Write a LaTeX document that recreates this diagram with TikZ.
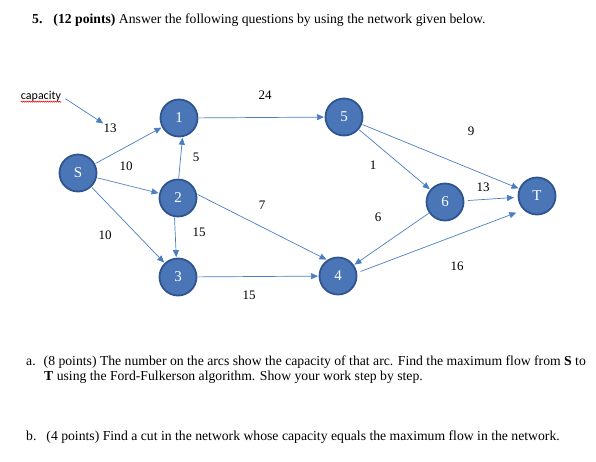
\documentclass[tikz,border=0pt]{standalone}
\usepackage{fontspec}
\setmainfont{Liberation Serif}
\newfontfamily\capfont{Carlito}
\usepackage{xcolor}
\usetikzlibrary{arrows.meta}
\usetikzlibrary{decorations.pathmorphing}

\definecolor{nodeblue}{HTML}{4A76B8}
\definecolor{rimblue}{HTML}{2F5591}
\definecolor{arcblue}{HTML}{4A7EC2}

\tikzset{
    vertex/.style={circle,draw=rimblue,line width=1.8pt,fill=nodeblue,text=white,
        minimum size=37pt,inner sep=0pt,outer sep=1.5pt,font=\fontsize{15}{17}\selectfont},
    arclabel/.style={inner sep=0pt,font=\fontsize{13}{15}\selectfont},
    arc/.style={draw=arcblue,line width=0.7pt,-{Triangle[length=7pt,width=6pt]}},
    question/.style={anchor=base west,inner sep=0pt,font=\fontsize{13.7}{15}\selectfont},
}

\begin{document}
\begin{tikzpicture}[x=1pt,y=-1pt]
    \useasboundingbox (0,0) rectangle (596,461);

    % question text
    \node [question] (title) at (32,23) {\textbf{5.}\hspace{11pt}\textbf{(12 points)} Answer the following questions by using the network given below.};
    \node [question] (parta) at (26,365) {a.\hspace{8pt}(8 points) The number on the arcs show the capacity of that arc. Find the maximum flow from \textbf{S} to};
    \node [question] (partacont) at (44,380) {\textbf{T} using the Ford-Fulkerson algorithm. Show your work step by step.};
    \node [question] (partb) at (26,440) {b.\hspace{10pt}(4 points) Find a cut in the network whose capacity equals the maximum flow in the network.};

    % vertices
    \node [vertex] (S) at (78,173) {S};
    \node [vertex] (1) at (179,118) {1};
    \node [vertex] (2) at (178,198) {2};
    \node [vertex] (3) at (178,277) {3};
    \node [vertex] (4) at (338,276) {4};
    \node [vertex] (5) at (344,117) {5};
    \node [vertex] (6) at (445,202) {6};
    \node [vertex] (T) at (537,196) {T};

    % capacities
    \node [arclabel] (cS1) at (110,128) {13};
    \node [arclabel] (cS2) at (126,166) {10};
    \node [arclabel] (cS3) at (105,235) {10};
    \node [arclabel] (c21) at (196,157) {5};
    \node [arclabel] (c15) at (265,95) {24};
    \node [arclabel] (c24) at (262,205) {7};
    \node [arclabel] (c23) at (199,232) {15};
    \node [arclabel] (c34) at (249,295) {15};
    \node [arclabel] (c56) at (373,165) {1};
    \node [arclabel] (c5T) at (471,131) {9};
    \node [arclabel] (c6T) at (483,187) {13};
    \node [arclabel] (c64) at (378,217) {6};
    \node [arclabel] (c4T) at (457,266) {16};

    % legend
    \node [inner sep=0pt,font=\capfont\fontsize{12}{14}\selectfont] (capacity) at (41,96) {capacity};
    \draw [red,line width=0.5pt,decorate,decoration={snake,amplitude=0.6pt,segment length=2pt}]
        ([yshift=-2.5pt]capacity.base west) -- ([yshift=-2.5pt]capacity.base east);
    \draw [arc,shorten <=5pt] (capacity.east) -- (cS1.north west);

    \path
        (S) edge [arc] (1)
        (S) edge [arc] (2)
        (S) edge [arc] (3)
        (2.88) edge [arc] (1.-80)
        (2.-100) edge [arc] (3.95)
        (1) edge [arc] (5)
        (2.10) edge [arc] (4.125)
        (3) edge [arc] (4)
        (5) edge [arc] (6)
        (5) edge [arc] (T)
        (6) edge [arc,shorten <=3pt,shorten >=3pt] (T)
        (6) edge [arc] (4)
        (4.10) edge [arc,shorten <=3pt,shorten >=7pt] (T.-135)
    ;
\end{tikzpicture}
\end{document}
